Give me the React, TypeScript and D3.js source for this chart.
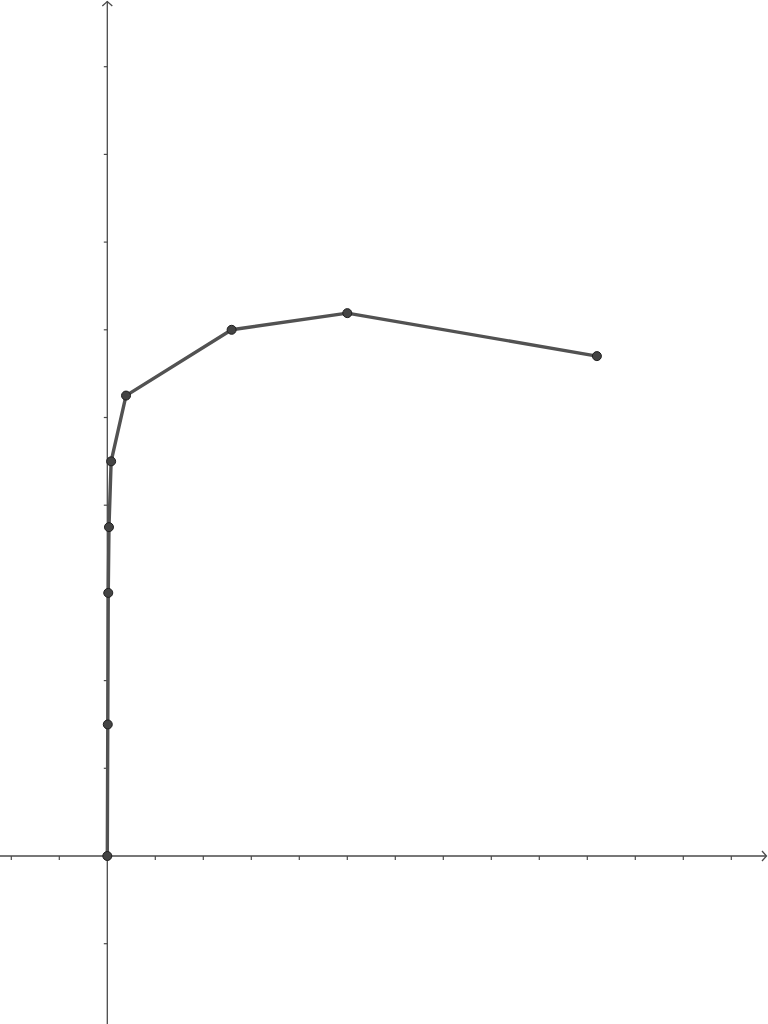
import { useEffect, useRef } from "react";
import * as d3 from "d3";

// readings (x: 1 unit = 48px, y: 1 unit = 87.7px)
const xValues = [0, 0.01, 0.02, 0.035, 0.08, 0.39, 2.59, 5.0, 10.2];
const yValues = [0, 1.5, 3.0, 3.75, 4.5, 5.25, 6.0, 6.19, 5.7];
const xTicks = [-2, -1, 1, 2, 3, 4, 5, 6, 7, 8, 9, 10, 11, 12, 13];
const yTicks = [-1, 1, 2, 3, 4, 5, 6, 7, 8, 9];

export default function App() {
  const svgRef = useRef<SVGSVGElement>(null);

  useEffect(() => {
    if (!svgRef.current) return;
    const width = 768;
    const height = 1024;

    const svg = d3.select(svgRef.current);
    svg.selectAll("*").remove();
    svg.attr("width", width).attr("height", height);

    const x = d3.scaleLinear().domain([-107.3 / 48, (width - 107.3) / 48]).range([0, width]);
    const y = d3.scaleLinear().domain([-168 / 87.7, 856 / 87.7]).range([height, 0]);

    const axisColor = "#4a4a4a";
    const x0 = x(0);
    const y0 = y(0);

    // axes
    svg.append("line")
      .attr("x1", 0).attr("x2", width - 2)
      .attr("y1", y0).attr("y2", y0)
      .attr("stroke", axisColor).attr("stroke-width", 1.3);
    svg.append("line")
      .attr("x1", x0).attr("x2", x0)
      .attr("y1", height).attr("y2", 1)
      .attr("stroke", axisColor).attr("stroke-width", 1.3);

    // arrow heads (open chevrons)
    svg.append("path")
      .attr("d", `M${width - 6},${y0 - 5} L${width - 1.5},${y0} L${width - 6},${y0 + 5}`)
      .attr("fill", "none").attr("stroke", axisColor).attr("stroke-width", 1.3);
    svg.append("path")
      .attr("d", `M${x0 - 5},6 L${x0},1.5 L${x0 + 5},6`)
      .attr("fill", "none").attr("stroke", axisColor).attr("stroke-width", 1.3);

    // ticks
    svg.selectAll(".xtick")
      .data(xTicks)
      .join("line")
      .attr("class", "xtick")
      .attr("x1", (d) => x(d)).attr("x2", (d) => x(d))
      .attr("y1", y0).attr("y2", y0 + 4)
      .attr("stroke", axisColor).attr("stroke-width", 1.2);
    svg.selectAll(".ytick")
      .data(yTicks)
      .join("line")
      .attr("class", "ytick")
      .attr("x1", x0 - 3.5).attr("x2", x0)
      .attr("y1", (d) => y(d)).attr("y2", (d) => y(d))
      .attr("stroke", axisColor).attr("stroke-width", 1.2);

    const pts = xValues.map((v, i) => [v, yValues[i]] as [number, number]);

    const line = d3.line<[number, number]>()
      .x((d) => x(d[0]))
      .y((d) => y(d[1]));

    svg.append("path")
      .datum(pts)
      .attr("d", line)
      .attr("fill", "none")
      .attr("stroke", "#525252")
      .attr("stroke-width", 3.4)
      .attr("stroke-linejoin", "round");

    svg.selectAll(".pt")
      .data(pts)
      .join("circle")
      .attr("class", "pt")
      .attr("cx", (d) => x(d[0]))
      .attr("cy", (d) => y(d[1]))
      .attr("r", 4.5)
      .attr("fill", "#444")
      .attr("stroke", "#1e1e1e")
      .attr("stroke-width", 1);
  }, []);

  return (
    <div style={{ position: "absolute", left: 0, top: 0, width: 768, height: 1024, background: "#fff" }}>
      <svg ref={svgRef} style={{ display: "block" }} />
    </div>
  );
}
